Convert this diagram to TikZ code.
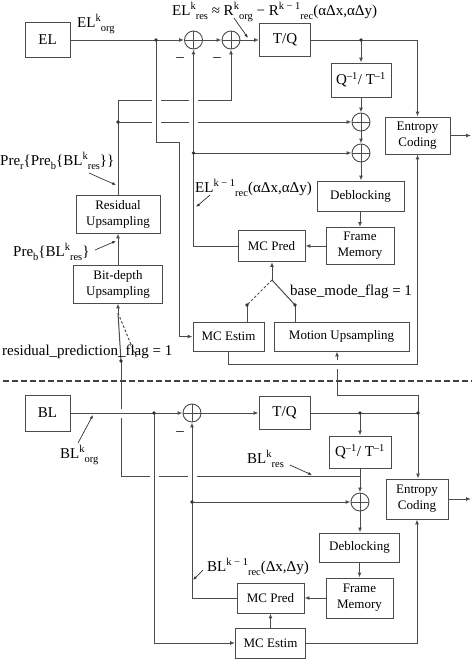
\documentclass[tikz,border=0pt]{standalone}
\usepackage{fontspec}
\setmainfont{Liberation Serif}
\usetikzlibrary{arrows.meta}

\tikzset{
  blk/.style={draw=black!70, line width=0.9pt, align=center, inner sep=1pt,
    font=\fontsize{13}{16}\selectfont}, % khoi chu nho
  blkL/.style={blk, font=\fontsize{15}{17}\selectfont}, % khoi chu lon
  adder/.style={circle, draw=black!70, line width=0.9pt, minimum size=18pt,
    inner sep=0pt, path picture={
      \draw[black!70, line width=0.9pt]
        (path picture bounding box.north) -- (path picture bounding box.south)
        (path picture bounding box.west) -- (path picture bounding box.east);}},
  ln/.style={draw=black!70, line width=1pt},
  arr/.style={ln, -{Latex[length=5pt,width=4pt]}},
  lead/.style={draw=black!80, line width=0.7pt, -{Latex[length=4pt,width=3pt]}},
  lbl/.style={inner sep=0pt, font=\fontsize{15}{17}\selectfont},
  dot/.style={circle, fill=black!80, inner sep=0pt, minimum size=3.6pt},
  swd/.style={ln, dash pattern=on 2.5pt off 2pt},
}
\newcommand\sps[1]{\raisebox{6pt}{\fontsize{10.5}{12}\selectfont #1}}
\newcommand\sbs[1]{\raisebox{-4.5pt}{\fontsize{10.5}{12}\selectfont #1}}
\newcommand\gapH[2]{\fill[white] (#1-4.5,#2-2) rectangle (#1+4.5,#2+2);
  \draw[ln] (#1,#2-4) -- (#1,#2+4);} % ngat duong ngang
\newcommand\gapV[2]{\fill[white] (#1-2,#2-4.5) rectangle (#1+2,#2+4.5);
  \draw[ln] (#1-4,#2) -- (#1+4,#2);} % ngat duong doc

\begin{document}
\begin{tikzpicture}[x=1pt, y=-1pt]
\useasboundingbox (0,0) rectangle (474,659);
% ---------- EL
\node[blkL, minimum width=45pt, minimum height=35pt] (el) at (47.5,40) {EL};
\node[adder] (s1) at (193.5,40) {};
\node[adder] (s2) at (231,40) {};
\node[blkL, minimum width=51pt, minimum height=33pt] (tqE) at (285,40) {T/Q};
\node[blkL, minimum width=60pt, minimum height=34pt] (iqE) at (361,80) {Q\textsuperscript{–1}/ T\textsuperscript{–1}};
\node[adder] (s3) at (361,122) {};
\node[adder] (s4) at (361,153) {};
\node[blk, minimum width=65pt, minimum height=37pt] (ecE) at (417.5,135.5) {Entropy\\Coding};
\node[blk, minimum width=87pt, minimum height=30pt] (dbE) at (360.5,196) {Deblocking};
\node[blk, minimum width=68pt, minimum height=37pt] (fmE) at (360,246) {Frame\\Memory};
\node[blk, minimum width=67pt, minimum height=31pt] (mpE) at (271.5,246) {MC Pred};
\node[blk, minimum width=71pt, minimum height=29pt] (meE) at (228.5,336.5) {MC Estim};
\node[blk, minimum width=135pt, minimum height=29pt] (mu) at (341.5,336.5) {Motion Upsampling};
\node[blk, minimum width=84pt, minimum height=38pt] (ru) at (118,214) {Residual\\Upsampling};
\node[blk, minimum width=89pt, minimum height=38pt] (bu) at (118,284) {Bit-depth\\Upsampling};

\coordinate (jE1) at (156,40);
\coordinate (jE2) at (iqE.north |- tqE.east);
\coordinate (jE3) at (s1 |- s4);
\coordinate (jE4) at (ru |- s3);
\coordinate (cE2) at (118,100);
\coordinate (cE3) at (179,142);
\coordinate (cE4) at (228.5,364);
\coordinate (oE) at (471,135.5);

\draw[arr] (el) -- (s1);
\draw[arr] (s1) -- (s2);
\draw[arr] (s2) -- (tqE);
\draw[arr] (tqE.east) -| (ecE.north);
\draw[arr] (jE2) -- (iqE.north);
\draw[arr] (iqE) -- (s3);
\draw[arr] (s3) -- (s4);
\draw[arr] (s4) -- (s4 |- dbE.north);
\draw[arr] (dbE.south -| fmE.north) -- (fmE.north);
\draw[arr] (fmE) -- (mpE);
\draw[arr] (mpE.west) -| (s1.south); % du doan MC
\draw[arr] (jE3) -- (s4.west);
\draw[arr] (ru.north) -- (cE2) -| (s2.south); % du doan phan du
\draw[arr] (jE4) -- (s3.west);
\draw[arr] (bu) -- (ru);
\draw[arr] (jE1) |- (cE3) |- (meE.west);
\draw[arr] (meE.south) -- (cE4) -| (ecE.south);
\draw[arr] (ecE.east) -- (oE);

% switch base_mode_flag
\coordinate (pv1) at (272,280);
\coordinate (k1) at (247,305);
\coordinate (k2) at (295,305);
\draw[arr] (pv1) -- (pv1 |- mpE.south);
\draw[ln] (k1) -- (k1 |- meE.north);
\draw[ln] (k2) -- (k2 |- mu.north);
\draw[ln] (pv1) -- (k2);
\draw[swd] (pv1) -- (k1);

% switch residual_prediction_flag
\coordinate (pv2) at (118,313);
\coordinate (k3) at (121,361);
\coordinate (k4) at (137,359);
\draw[arr] (pv2) -- (bu.south);
\draw[ln] (pv2) -- (k3);
\draw[swd] (pv2) -- (k4);

% duong phan cach
\coordinate (sepL) at (3,381);
\coordinate (sepR) at (472,381);
\draw[black!75, line width=1.3pt, dash pattern=on 5.5pt off 3.5pt] (sepL) -- (sepR);

% ---------- BL
\node[blkL, minimum width=45pt, minimum height=36pt] (bl) at (47.5,413) {BL};
\node[adder] (s5) at (192,413) {};
\node[blkL, minimum width=51pt, minimum height=33pt] (tqB) at (284.5,413) {T/Q};
\node[blkL, minimum width=62pt, minimum height=32pt] (iqB) at (360,452) {Q\textsuperscript{–1}/ T\textsuperscript{–1}};
\node[adder] (s6) at (360,502) {};
\node[blk, minimum width=62pt, minimum height=40pt] (ecB) at (417,499) {Entropy\\Coding};
\node[blk, minimum width=80pt, minimum height=29pt] (dbB) at (359.5,547.5) {Deblocking};
\node[blk, minimum width=67pt, minimum height=40pt] (fmB) at (359.5,598) {Frame\\Memory};
\node[blk, minimum width=67pt, minimum height=30pt] (mpB) at (270.5,598) {MC Pred};
\node[blk, minimum width=70pt, minimum height=30pt] (meB) at (270.5,643) {MC Estim};

\coordinate (jB1) at (154,413);
\coordinate (jB2) at (iqB.north |- tqB.east);
\coordinate (jB3) at (418,413);
\coordinate (jB4) at (s5 |- s6);
\coordinate (cB1) at (121,476);
\coordinate (cB5) at (337,395);
\coordinate (oB) at (471,499);

\draw[arr] (bl) -- (s5);
\draw[arr] (s5) -- (tqB);
\draw[ln] (tqB.east) -- (jB3);
\draw[arr] (jB2) -- (iqB.north);
\draw[arr] (jB3) -- (jB3 |- ecB.north);
\draw[arr] (jB3) |- (cB5) -- (cB5 |- mu.south); % chuyen dong len EL
\draw[arr] (iqB) -- (s6);
\draw[arr] (s6) -- (s6 |- dbB.north);
\draw[arr] (dbB) -- (fmB);
\draw[arr] (fmB) -- (mpB);
\draw[arr] (mpB.west) -| (s5.south);
\draw[arr] (jB4) -- (s6.west);
\draw[arr] (jB1) |- (meB.west);
\draw[arr] (meB) -- (mpB);
\draw[arr] (meB.east) -| (ecB.south);
\draw[arr] (ecB.east) -- (oB);
\draw[ln] (k3) -- (cB1) -- (cB1 -| iqB.south); % phan du BL len EL

% cho giao nhau
\gapH{156}{100} \gapH{193.5}{100}
\gapH{156}{122} \gapH{193.5}{122}
\gapV{337}{364}
\gapV{121}{413}
\gapH{154}{476} \gapH{192}{476}

% diem noi
\foreach \p in {jE1,jE2,jE3,jE4,k1,k2,k3,jB1,jB2,jB3,jB4}
  \node[dot] (d\p) at (\p) {};

% ---------- nhan
\node[lbl, anchor=base west] (tOrgE) at (77,27) {EL\sps{k}\sbs{org}};
\node[lbl, anchor=base west] (tResE) at (172,15) {EL\sps{k}\sbs{res} ≈ R\sps{k}\sbs{org} − R\sps{k − 1}\sbs{rec}(αΔx,αΔy)};
\node[lbl, anchor=base west] (tRecE) at (195,192) {EL\sps{k − 1}\sbs{rec}(αΔx,αΔy)};
\node[lbl, anchor=base west] (tPreR) at (0,165) {Pre\sbs{r}\{Pre\sbs{b}\{BL\sps{k}\sbs{res}\}\}};
\node[lbl, anchor=base west] (tPreB) at (13,256) {Pre\sbs{b}\{BL\sps{k}\sbs{res}\}};
\node[lbl, anchor=base west] (tRpf) at (2,355) {residual\_prediction\_flag = 1};
\node[lbl, anchor=base west] (tBmf) at (290,295) {base\_mode\_flag = 1};
\node[lbl] (mn1) at (180,60) {–};
\node[lbl] (mn2) at (217,60) {–};
\node[lbl, anchor=base west] (tOrgB) at (60,458) {BL\sps{k}\sbs{org}};
\node[lbl, anchor=base west] (tResB) at (247,463) {BL\sps{k}\sbs{res}};
\node[lbl, anchor=base west] (tRecB) at (207,571) {BL\sps{k − 1}\sbs{rec}(Δx,Δy)};
\node[lbl] (mn3) at (180,434) {–};

% mui ten chi nhan
\coordinate (a1) at (234,18);  \coordinate (b1) at (248,38);
\coordinate (a2) at (210,195); \coordinate (b2) at (196,207);
\coordinate (a3) at (89,173);  \coordinate (b3) at (116,185);
\coordinate (a4) at (95,250);  \coordinate (b4) at (116,241);
\coordinate (a5) at (78,443);  \coordinate (b5) at (93,415);
\coordinate (a6) at (290,465); \coordinate (b6) at (312,475);
\coordinate (a7) at (203,570); \coordinate (b7) at (193,580);
\foreach \i in {1,...,7}
  \draw[lead] (a\i) -- (b\i);
\end{tikzpicture}
\end{document}
